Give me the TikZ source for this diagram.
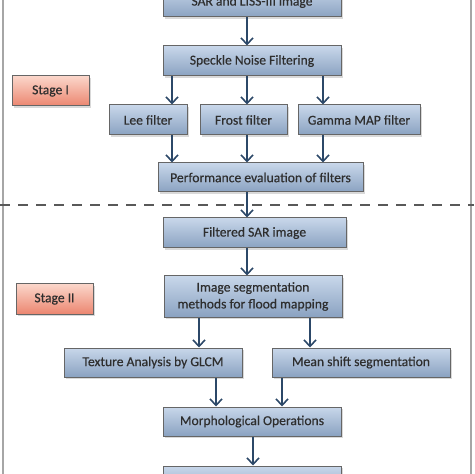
\documentclass[tikz,border=0pt]{standalone}
\usepackage{fontspec}
\setmainfont{Carlito}
\newfontfamily\boxfont{Carlito}[FakeBold=0.5]
\usetikzlibrary{
  arrows.meta, % Straight Barb 箭头
  shadows      % 方框阴影
}
\definecolor{boxtop}{HTML}{C8D7EA}
\definecolor{boxbot}{HTML}{8AA2C1}
\definecolor{stagetop}{HTML}{FBD6CA}
\definecolor{stagebot}{HTML}{EC8670}
\definecolor{arrowc}{HTML}{2C4868}

\begin{document}
\begin{tikzpicture}[x=0.5pt, y=-0.5pt,
  box/.style={draw=black!60, line width=0.5pt, top color=boxtop, bottom color=boxbot,
    text=black!82, font=\fontsize{6.8}{8.4}\boxfont, minimum height=15pt,
    inner sep=0pt, align=center,
    drop shadow={shadow xshift=0.8pt, shadow yshift=-0.8pt, opacity=0.3}},
  stagebox/.style={box, top color=stagetop, bottom color=stagebot, minimum width=38.5pt},
  arr/.style={-{Straight Barb[length=3.2pt, width=6pt]}, line width=0.8pt, draw=arrowc},
  frame/.style={draw=black!35, line width=1pt}]
  \useasboundingbox (0,0) rectangle (474,474);
  \clip (0,0) rectangle (474,474);

  % 外框与分隔虚线
  \draw[frame] (3,-5) -- (3,480);
  \draw[frame] (471,-5) -- (471,480);
  \draw[black!65, line width=0.8pt, dash pattern=on 5pt off 4pt] (0,205) -- (474,205);

  % 第一阶段
  \node[box, minimum width=89pt] (sar) at (252,2) {SAR and LISS-III image};
  \node[box, minimum width=89pt] (speckle) at (252,61) {Speckle Noise Filtering};
  \node[stagebox] (stage1) at (50.5,91) {Stage I};
  \node[box, minimum width=39pt] (lee) at (148,120) {Lee filter};
  \node[box, minimum width=43.5pt] (frost) at (243.5,120) {Frost filter};
  \node[box, minimum width=61pt] (gamma) at (359,120) {Gamma MAP filter};
  \node[box, minimum width=102.5pt, minimum height=14.5pt] (perf) at (260.5,177.5)
    {Performance evaluation of filters};

  % 第二阶段
  \node[box, minimum width=91.5pt] (filtered) at (254.5,233) {Filtered SAR image};
  \node[box, minimum width=89pt, minimum height=20.5pt] (seg) at (253,296.5)
    {Image segmentation\\methods for flood mapping};
  \node[stagebox] (stage2) at (54.5,299) {Stage II};
  \node[box, minimum width=89pt, minimum height=14.5pt] (texture) at (153,362.5)
    {Texture Analysis by GLCM};
  \node[box, minimum width=89pt, minimum height=14.5pt] (mean) at (361,362.5)
    {Mean shift segmentation};
  \node[box, minimum width=89pt, minimum height=14.5pt] (morph) at (252,421.5)
    {Morphological Operations};
  \node[box, minimum width=89pt] (final) at (252,481) {};

  % 箭头所在的竖线位置
  \coordinate (xa) at (247,0);
  \coordinate (xl) at (172,0);
  \coordinate (xg) at (323,0);
  \coordinate (xt) at (199,0);
  \coordinate (xm) at (310,0);
  \coordinate (xt2) at (216,0);
  \coordinate (xm2) at (282,0);
  \coordinate (xo) at (253,0);

  % 连线
  \draw[arr] (sar.south -| xa) -- (speckle.north -| xa);
  \draw[arr] (speckle.south -| xl) -- (lee.north -| xl);
  \draw[arr] (speckle.south -| xa) -- (frost.north -| xa);
  \draw[arr] (speckle.south -| xg) -- (gamma.north -| xg);
  \draw[arr] (lee.south -| xl) -- (perf.north -| xl);
  \draw[arr] (frost.south -| xa) -- (perf.north -| xa);
  \draw[arr] (gamma.south -| xg) -- (perf.north -| xg);
  \draw[arr] (perf.south -| xa) -- (filtered.north -| xa);
  \draw[arr] (filtered.south -| xa) -- (seg.north -| xa);
  \draw[arr] (seg.south -| xt) -- (texture.north -| xt);
  \draw[arr] (seg.south -| xm) -- (mean.north -| xm);
  \draw[arr] (texture.south -| xt2) -- (morph.north -| xt2);
  \draw[arr] (mean.south -| xm2) -- (morph.north -| xm2);
  \draw[arr] (morph.south -| xo) -- (final.north -| xo);
\end{tikzpicture}
\end{document}
